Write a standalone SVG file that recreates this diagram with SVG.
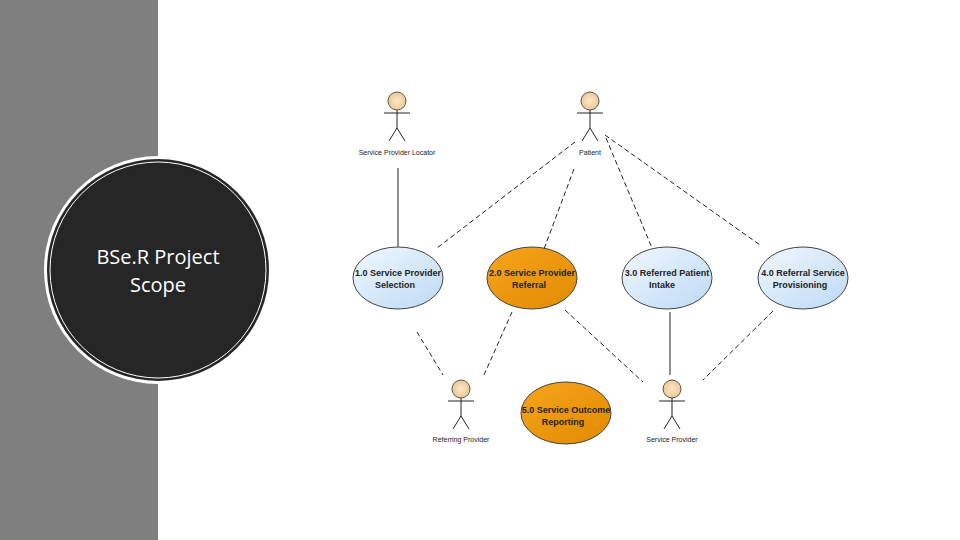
<svg xmlns="http://www.w3.org/2000/svg" width="960" height="540" viewBox="0 0 960 540">
<defs>
<linearGradient id="blue" x1="0" y1="0" x2="1" y2="1"><stop offset="0" stop-color="#f2f8ff"/><stop offset="1" stop-color="#bcd9f5"/></linearGradient>
<linearGradient id="orange" x1="0" y1="0" x2="1" y2="1"><stop offset="0" stop-color="#f7a51c"/><stop offset="1" stop-color="#e08a00"/></linearGradient>
<radialGradient id="head"><stop offset="0" stop-color="#fbe8cc"/><stop offset="1" stop-color="#f0c890"/></radialGradient>
<g id="actor" fill="none" stroke="#222" stroke-width="1"><circle cx="0" cy="0" r="9" fill="url(#head)" stroke="#555"/><line x1="-13" y1="12" x2="13" y2="12"/><line x1="0" y1="9" x2="0" y2="27"/><line x1="0" y1="27" x2="-8" y2="40"/><line x1="0" y1="27" x2="8" y2="40"/></g>
</defs>
<style>
.t{font-family:"Liberation Sans",Arial,sans-serif;font-size:9px;font-weight:bold;fill:#222;text-anchor:middle}
.a{font-family:"Liberation Sans",Arial,sans-serif;font-size:7px;fill:#222;text-anchor:middle}
.c line{stroke:#222;stroke-width:1;stroke-dasharray:5 3}
.u{stroke:#444;stroke-width:1}
</style>
<rect width="960" height="540" fill="#fff"/>
<rect width="158" height="540" fill="#7f7f7f"/>
<circle cx="158" cy="270" r="114" fill="#fff"/>
<circle cx="158" cy="270" r="111" fill="#262626"/>
<circle cx="158" cy="270" r="108" fill="none" stroke="#fff" stroke-width="1"/>
<circle cx="158" cy="270" r="104" fill="#262626"/>
<text x="158" y="264" font-family="Segoe UI,'Open Sans',sans-serif" font-size="20" fill="#fff" text-anchor="middle">BSe.R Project</text>
<text x="158" y="292" font-family="Segoe UI,'Open Sans',sans-serif" font-size="20" fill="#fff" text-anchor="middle">Scope</text>
<g class="c">
<line x1="398" y1="168" x2="398" y2="248" style="stroke-dasharray:none"/>
<line x1="575" y1="142" x2="437" y2="248"/>
<line x1="574" y1="169" x2="544" y2="249"/>
<line x1="606" y1="138" x2="652" y2="248"/>
<line x1="605" y1="135" x2="760" y2="245"/>
<line x1="417" y1="332" x2="443" y2="375"/>
<line x1="512" y1="312" x2="484" y2="375"/>
<line x1="565" y1="310" x2="643" y2="382"/>
<line x1="670" y1="312" x2="670" y2="375" style="stroke-dasharray:none"/>
<line x1="773" y1="311" x2="703" y2="380"/>
</g>
<g id="a1"><use href="#actor" x="397" y="101"/><text class="a" x="397" y="155">Service Provider Locator</text></g>
<g id="a2"><use href="#actor" x="590" y="101"/><text class="a" x="590" y="155">Patient</text></g>
<g id="a3"><use href="#actor" x="461" y="389"/><text class="a" x="461" y="442">Referring Provider</text></g>
<g id="a4"><use href="#actor" x="672" y="389"/><text class="a" x="672" y="442">Service Provider</text></g>
<g id="u1"><ellipse cx="398" cy="278" rx="45" ry="31" fill="url(#blue)" class="u"/><text class="t" x="398" y="276">1.0 Service Provider</text><text class="t" x="395" y="288">Selection</text></g>
<g id="u2"><ellipse cx="532" cy="278" rx="45" ry="31" fill="url(#orange)" class="u"/><text class="t" x="532" y="276">2.0 Service Provider</text><text class="t" x="529" y="288">Referral</text></g>
<g id="u3"><ellipse cx="667" cy="278" rx="45" ry="31" fill="url(#blue)" class="u"/><text class="t" x="667" y="276">3.0 Referred Patient</text><text class="t" x="662" y="288">Intake</text></g>
<g id="u4"><ellipse cx="803" cy="278" rx="45" ry="31" fill="url(#blue)" class="u"/><text class="t" x="803" y="276">4.0 Referral Service</text><text class="t" x="800" y="288">Provisioning</text></g>
<g id="u5"><ellipse cx="566" cy="413" rx="45" ry="31" fill="url(#orange)" class="u"/><text class="t" x="566" y="413">5.0 Service Outcome</text><text class="t" x="563" y="425">Reporting</text></g>
</svg>
